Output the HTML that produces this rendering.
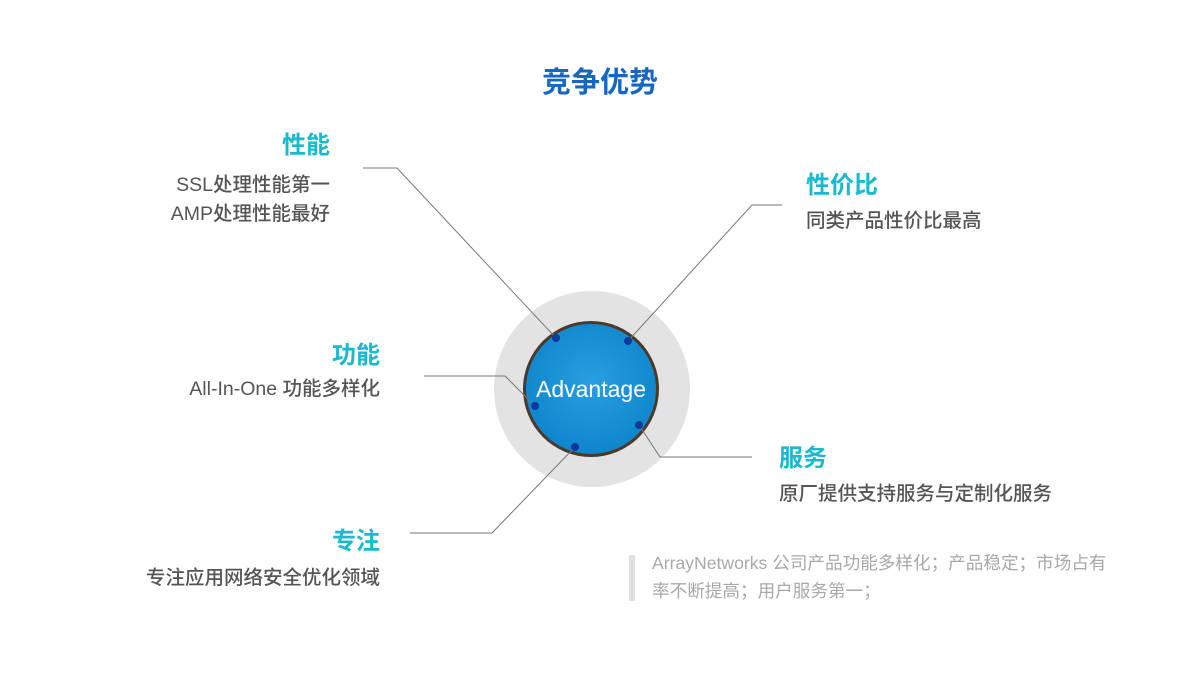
<!DOCTYPE html>
<html><head><meta charset="utf-8"><style>
body{margin:0;width:1200px;height:675px;background:#fff;position:relative;overflow:hidden;font-family:"Liberation Sans","Noto Sans CJK SC",sans-serif}
.t{position:absolute;white-space:nowrap}
.h{color:#19b9cf;font-weight:bold;font-size:24px}
.b{color:#555;font-size:19.5px;line-height:29px;font-weight:500}
</style></head><body>
<div class="t" style="left:0;width:1200px;text-align:center;top:59px;color:#1767c2;font-weight:bold;font-size:29px">竞争优势</div>
<svg width="1200" height="675" style="position:absolute;left:0;top:0">
<defs><radialGradient id="g" cx="50%" cy="45%" r="55%"><stop offset="0" stop-color="#2a9ee0"/><stop offset="1" stop-color="#0f86cc"/></radialGradient></defs>
<circle cx="592" cy="389" r="98" fill="#e3e3e3"/>
<circle cx="591" cy="389" r="68" fill="#4a3a2a"/>
<circle cx="591" cy="389" r="65" fill="url(#g)"/>
<g stroke="#777" stroke-width="1" fill="none">
<polyline points="363,168 397,168 556,338"/>
<polyline points="782,205 752,205 628,341"/>
<polyline points="424,376 505,376 535,406"/>
<polyline points="639,425 660,457 752,457"/>
<polyline points="410,533 492,533 575,447"/>
</g>
<g fill="#0b3a9c"><circle cx="556" cy="338" r="4"/><circle cx="628" cy="341" r="4"/><circle cx="535" cy="406" r="4"/><circle cx="639" cy="425" r="4"/><circle cx="575" cy="447" r="4"/></g>
<text x="591" y="397" text-anchor="middle" fill="#fff" font-family="Liberation Sans,sans-serif" font-size="23">Advantage</text>
<rect x="629" y="555" width="6" height="46" fill="#e0e0e0"/>
</svg>
<div class="t h" style="right:870px;top:125px">性能</div>
<div class="t b" style="right:870px;top:171px;text-align:right">SSL处理性能第一<br>AMP处理性能最好</div>
<div class="t h" style="left:806px;top:165px">性价比</div>
<div class="t b" style="left:806px;top:207px">同类产品性价比最高</div>
<div class="t h" style="right:820px;top:335px">功能</div>
<div class="t b" style="right:820px;top:375px">All-In-One 功能多样化</div>
<div class="t h" style="left:779px;top:438px">服务</div>
<div class="t b" style="left:779px;top:480px">原厂提供支持服务与定制化服务</div>
<div class="t h" style="right:820px;top:521px">专注</div>
<div class="t b" style="right:820px;top:564px">专注应用网络安全优化领域</div>
<div class="t" style="left:652px;top:549px;color:#a8a8a8;font-size:17.6px;line-height:28px">ArrayNetworks 公司产品功能多样化；产品稳定；市场占有<br>率不断提高；用户服务第一；</div>
</body></html>
